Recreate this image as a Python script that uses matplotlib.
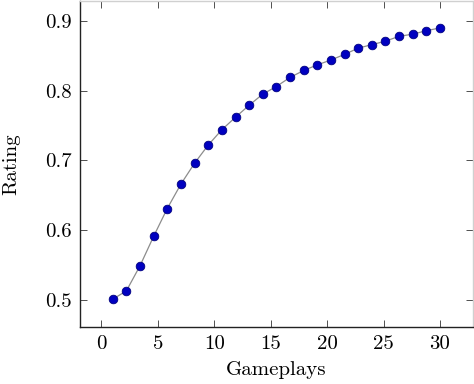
import matplotlib
matplotlib.use("Agg")
import matplotlib.pyplot as plt
import numpy as np

plt.rcParams['font.family'] = 'serif'
plt.rcParams['font.serif'] = ['cmr10', 'DejaVu Serif']
plt.rcParams['mathtext.fontset'] = 'cm'
plt.rcParams['axes.formatter.use_mathtext'] = True

gameplays = [1.0, 2.21, 3.42, 4.62, 5.83, 7.04, 8.25, 9.46, 10.67, 11.88, 13.08, 14.29, 15.50,
             16.71, 17.92, 19.13, 20.33, 21.54, 22.75, 23.96, 25.17, 26.38, 27.58, 28.79, 30.0]
rating = [0.501, 0.513, 0.549, 0.591, 0.631, 0.666, 0.696, 0.722, 0.744, 0.762, 0.779, 0.795, 0.806,
          0.819, 0.829, 0.837, 0.844, 0.852, 0.861, 0.866, 0.871, 0.878, 0.881, 0.886, 0.890]
xticks = [0, 5, 10, 15, 20, 25, 30]
yticks = [0.5, 0.6, 0.7, 0.8, 0.9]

fig = plt.figure(figsize=(4.74, 3.84), dpi=100)
ax = fig.add_axes([80/474, 57.5/384, (472.7-80)/474, (326.5-1)/384])
ax.plot(gameplays, rating, color='#8c8c8c', lw=0.9, zorder=2)
ax.plot(gameplays, rating, linestyle='none', marker='o', markersize=6.2,
        markerfacecolor='#0000c0', markeredgecolor='#000080', markeredgewidth=0.6, zorder=3)

ax.set_xlim(-1.9, 32.9)
ax.set_ylim(0.4619, 0.9286)
ax.set_xticks(xticks)
ax.set_yticks(yticks)
ax.set_xticklabels([str(v) for v in xticks])
ax.set_yticklabels([f"{v:.1f}" for v in yticks])
ax.tick_params(direction='in', length=5, width=0.6, color='#333333', labelsize=15,
               top=True, right=True, pad=6)
for s in ['left', 'bottom']:
    ax.spines[s].set_linewidth(1.0)
    ax.spines[s].set_color('#222222')
for s in ['top', 'right']:
    ax.spines[s].set_linewidth(1.0)
    ax.spines[s].set_color('#d0d0d0')
ax.set_xlabel('Gameplays', fontsize=15, labelpad=6)
ax.set_ylabel('Rating', fontsize=15, labelpad=18)

fig.savefig('out.png', dpi=100)
